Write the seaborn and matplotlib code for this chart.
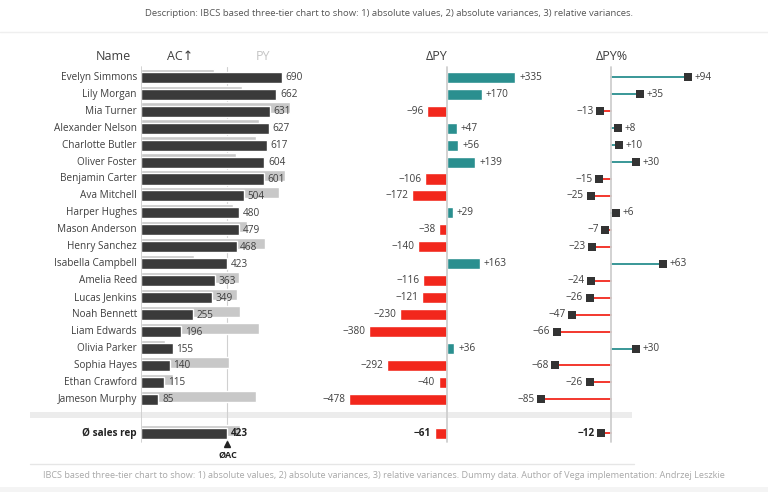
import numpy as np
import pandas as pd
import matplotlib
matplotlib.use("Agg")
import matplotlib.pyplot as plt
import seaborn as sns

# data
names = ["Evelyn Simmons", "Lily Morgan", "Mia Turner", "Alexander Nelson", "Charlotte Butler",
         "Oliver Foster", "Benjamin Carter", "Ava Mitchell", "Harper Hughes", "Mason Anderson",
         "Henry Sanchez", "Isabella Campbell", "Amelia Reed", "Lucas Jenkins", "Noah Bennett",
         "Liam Edwards", "Olivia Parker", "Sophia Hayes", "Ethan Crawford", "Jameson Murphy"]
ac = [690, 662, 631, 627, 617, 604, 601, 504, 480, 479, 468, 423, 363, 349, 255, 196, 155, 140, 115, 85]
py = [355, 492, 727, 580, 561, 465, 707, 676, 451, 517, 608, 260, 479, 470, 485, 576, 119, 432, 155, 563]
delta_py = [335, 170, -96, 47, 56, 139, -106, -172, 29, -38, -140, 163, -116, -121, -230, -380, 36, -292, -40, -478]
delta_pct = [94, 35, -13, 8, 10, 30, -15, -25, 6, -7, -23, 63, -24, -26, -47, -66, 30, -68, -26, -85]
avg_label = "Ø sales rep"
avg_ac = 423
avg_py = 484
avg_delta = -61
avg_pct = -12

DARK = "#3a3a3a"
GREY = "#c8c8c8"
TEAL = "#2a8f8f"
RED = "#f2271c"
TXT = "#3f3f3f"
AXL = "#cfcfcf"

sns.set_theme(style="white")
plt.rcParams["font.family"] = ["Open Sans", "DejaVu Sans"]

df = pd.DataFrame({"name": names, "ac": ac, "py": py, "dpy": delta_py, "dpct": delta_pct})
df["pos"] = np.arange(len(df))
summ = pd.DataFrame({"name": [avg_label], "ac": [avg_ac], "py": [avg_py],
                     "dpy": [avg_delta], "dpct": [avg_pct], "pos": [len(df) + 1]})
full = pd.concat([df, summ], ignore_index=True)

W, H = 768, 492
fig = plt.figure(figsize=(W / 100, H / 100), dpi=100)
fig.patch.set_facecolor("white")

# background / decoration layer in pixel coords
bg = fig.add_axes([0, 0, 1, 1], zorder=0)
bg.set_xlim(0, W)
bg.set_ylim(H, 0)
bg.axis("off")
bg.axhline(32, color="#efefef", lw=1)
bg.fill_between([30, 632], 412, 417.5, color="#ececec", lw=0)
bg.plot([30, 634], [464, 464], color="#e6e6e6", lw=1)
bg.fill_between([0, W], 487, H, color="#f4f4f4", lw=0)
bg.text(389, 14, "Description: IBCS based three-tier chart to show: 1) absolute values, 2) absolute variances, 3) relative variances.",
        ha="center", va="center", fontsize=6.8, color="#555555")
bg.text(384, 476, "IBCS based three-tier chart to show: 1) absolute values, 2) absolute variances, 3) relative variances. Dummy data. Author of Vega implementation: Andrzej Leszkie",
        ha="center", va="center", fontsize=6.6, color="#a8a8a8")

# row geometry
row0, rstep = 77.3, 16.95
top_px, bot_px = 62, 445
ylim = ((bot_px - row0) / rstep, (top_px - row0) / rstep)


def make_ax(x0, x1, zero_px, scale):
    ax = fig.add_axes([x0 / W, 1 - bot_px / H, (x1 - x0) / W, (bot_px - top_px) / H], zorder=2)
    ax.set_xlim((x0 - zero_px) / scale, (x1 - zero_px) / scale)
    ax.set_ylim(*ylim)
    ax.axis("off")
    ax.patch.set_alpha(0)
    return ax


s_abs = 0.2043
s_pct = 0.82
ax1 = make_ax(141, 330, 141, s_abs)
ax2 = make_ax(340, 545, 447, s_abs)
ax3 = make_ax(515, 745, 611, s_pct)

y_lo, y_hi = (67 - row0) / rstep, (442 - row0) / rstep
bh = 0.65
off = 0.19

# ---- AC / PY panel
ax1.plot([avg_ac, avg_ac], [y_lo, y_hi], color="#d0d0d0", lw=0.8, zorder=1)
ax1.barh(full["pos"] - off, full["py"], height=bh, color=GREY, zorder=2)
ax1.barh(full["pos"], full["ac"], height=bh, color=DARK, zorder=3)
ax1.plot([0, 0], [y_lo, y_hi], color=AXL, lw=1.3, zorder=4)
for i, r in full.iterrows():
    bold = r["name"] == avg_label
    ax1.text(r["ac"] + 18, r["pos"] + 0.03, f"{r['ac']}", ha="left", va="center", fontsize=7.2,
             color="#222222" if bold else TXT, fontweight="bold" if bold else "normal", zorder=5)
    ax1.text(-20, r["pos"], r["name"], ha="right", va="center", fontsize=7.2,
             color="#222222" if bold else TXT, fontweight="bold" if bold else "normal", clip_on=False)
ax1.plot([avg_ac], [(444 - row0) / rstep], marker="^", color="#222222", ms=4, clip_on=False)
ax1.text(avg_ac, (455 - row0) / rstep, "ØAC", ha="center", va="center", fontsize=6.5,
         fontweight="bold", color="#222222", clip_on=False)

# ---- ΔPY panel
cols = [TEAL if v >= 0 else RED for v in full["dpy"]]
ax2.barh(full["pos"], full["dpy"], height=bh, color=cols, zorder=3)
ax2.plot([0, 0], [y_lo, y_hi], color=AXL, lw=1.3, zorder=4)
for i, r in full.iterrows():
    bold = r["name"] == avg_label
    v = r["dpy"]
    lab = f"+{v}" if v > 0 else f"\u2212{abs(v)}"
    ax2.text(v + (18 if v > 0 else -18), r["pos"], lab, ha="left" if v > 0 else "right", va="center",
             fontsize=7.2, color="#222222" if bold else TXT, fontweight="bold" if bold else "normal")

# ---- ΔPY% panel
for i, r in full.iterrows():
    v = r["dpct"]
    ax3.plot([0, v], [r["pos"], r["pos"]], color=TEAL if v >= 0 else RED, lw=1.3, zorder=2)
sns.scatterplot(data=full, x="dpct", y="pos", marker="s", s=26, color="#333333",
                edgecolor="#333333", linewidth=0, ax=ax3, zorder=3, legend=False, clip_on=False)
ax3.set_xlim((515 - 611) / s_pct, (745 - 611) / s_pct)
ax3.set_ylim(*ylim)
ax3.axis("off")
ax3.plot([0, 0], [y_lo, y_hi], color=AXL, lw=1.3, zorder=4)
for i, r in full.iterrows():
    bold = r["name"] == avg_label
    v = r["dpct"]
    lab = f"+{v}" if v > 0 else f"\u2212{abs(v)}"
    ax3.text(v + (8 if v > 0 else -8), r["pos"], lab, ha="left" if v > 0 else "right", va="center",
             fontsize=7.2, color="#222222" if bold else TXT, fontweight="bold" if bold else "normal")

# ---- headers
hy = 57
bg.text(113, hy, "Name", ha="center", va="center", fontsize=9, color=TXT)
bg.text(180, hy, "AC\u2191", ha="center", va="center", fontsize=9, color=TXT)
bg.text(263, hy, "PY", ha="center", va="center", fontsize=9, color="#c4c4c4")
bg.text(437, hy, "\u0394PY", ha="center", va="center", fontsize=9, color=TXT)
bg.text(612, hy, "\u0394PY%", ha="center", va="center", fontsize=9, color=TXT)

fig.savefig("out.png", dpi=100, facecolor="white")
